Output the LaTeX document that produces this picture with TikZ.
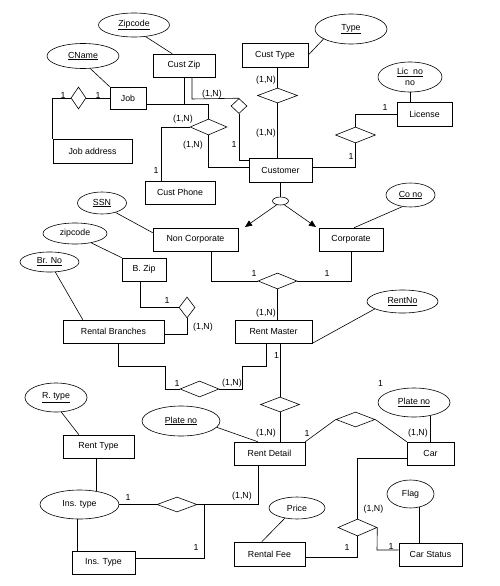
\documentclass[tikz,border=0pt]{standalone}
\usepackage{fontspec}
\setmainfont{Liberation Sans}
\usepackage{tikz}
\usetikzlibrary{shapes,arrows.meta,calc}

\begin{document}
\begin{tikzpicture}[x=1pt,y=-1pt,line width=0.6pt,
  every node/.style={font=\fontsize{8.8}{10.5}\selectfont},
  ent/.style={draw,rectangle,inner sep=0pt,minimum height=23pt},
  attr/.style={draw,ellipse,inner sep=0pt,align=center},
  rel/.style={draw,diamond,inner sep=0pt,minimum width=39pt,minimum height=16pt},
  card/.style={inner sep=0pt}]
\useasboundingbox (0,0) rectangle (500,586);

\node[ent,minimum width=62pt] (CZip) at (184,65.5) {Cust Zip};
\node[ent,minimum width=66pt,minimum height=24pt] (CType) at (275,55) {Cust Type};
\node[ent,minimum width=36pt,minimum height=22pt] (Job) at (128,98) {Job};
\node[ent,minimum width=79pt,minimum height=24pt] (JAddr) at (92.5,151) {Job address};
\node[ent,minimum width=70pt] (CPhone) at (180,192.5) {Cust Phone};
\node[ent,minimum width=55pt,minimum height=24pt] (Lic) at (424.5,114) {License};
\node[ent,minimum width=63pt,minimum height=24pt] (Cust) at (280.5,170) {Customer};
\node[ent,minimum width=85pt] (NonC) at (195.5,239.5) {Non Corporate};
\node[ent,minimum width=64pt] (Corp) at (351,239.5) {Corporate};
\node[ent,minimum width=44pt] (BZip) at (144,269.5) {B. Zip};
\node[ent,minimum width=101pt] (RBranch) at (113.5,331.5) {Rental Branches};
\node[ent,minimum width=77pt] (RMas) at (273.5,331.5) {Rent Master};
\node[ent,minimum width=71pt] (RType) at (98.5,446.5) {Rent Type};
\node[ent,minimum width=63pt] (InsT) at (103.5,562.5) {Ins. Type};
\node[ent,minimum width=71pt] (RDet) at (269.5,453.5) {Rent Detail};
\node[ent,minimum width=47pt] (Car) at (430.5,453.5) {Car};
\node[ent,minimum width=71pt,minimum height=24pt] (RFee) at (269.5,554) {Rental Fee};
\node[ent,minimum width=63pt] (CStat) at (430.5,554.5) {Car Status};

\node[attr,minimum width=71pt,minimum height=24pt] (Zip) at (134,25) {\underline{Zipcode}};
\node[attr,minimum width=72pt,minimum height=25pt] (CName) at (83,56) {\underline{CName}};
\node[attr,minimum width=72pt,minimum height=30pt] (TypeA) at (351,29) {\underline{Type}};
\node[attr,minimum width=64pt,minimum height=30pt] (LicNo) at (410,77) {\underline{Lic\ \ no}\\[1pt]no};
\node[attr,minimum width=49pt,minimum height=22pt] (SSN) at (102,203) {\underline{SSN}};
\node[attr,minimum width=49pt,minimum height=24pt] (CoNo) at (410.5,195) {\underline{Co no}};
\node[attr,minimum width=64pt,minimum height=21pt] (BZipA) at (75,233.5) {zipcode};
\node[attr,minimum width=59pt,minimum height=20pt] (BrNo) at (49.5,262) {\underline{Br. No}};
\node[attr,minimum width=71pt,minimum height=23pt] (RentNo) at (402.5,301.5) {\underline{RentNo}};
\node[attr,minimum width=62pt,minimum height=29pt] (RTypeA) at (56,397.5) {\underline{R. type}};
\node[attr,minimum width=78pt,minimum height=30pt] (PlateL) at (181,421) {\underline{Plate no}};
\node[attr,minimum width=72pt,minimum height=29pt] (PlateR) at (414,402.5) {\underline{Plate no}};
\node[attr,minimum width=79pt,minimum height=29pt] (InsE) at (79.5,504.5) {Ins. type};
\node[attr,minimum width=56pt,minimum height=22pt] (Price) at (297,508) {Price};
\node[attr,minimum width=47pt,minimum height=28pt] (Flag) at (410.5,494) {Flag};
\node[attr,minimum width=16pt,minimum height=8pt] (Isa) at (280.5,201) {};

\node[rel,minimum width=15pt,minimum height=22pt] (RJob) at (78.5,98) {};
\node[rel,minimum width=37pt] (RZip) at (208.5,127) {};
\node[rel,minimum width=16pt,minimum height=15pt] (RCz) at (239,106) {};
\node[rel,minimum width=40pt,minimum height=15pt] (RCt) at (277.5,95.5) {};
\node[rel,minimum width=40pt] (RLic) at (355.5,135) {};
\node[rel] (RCorp) at (277.5,281) {};
\node[rel,minimum width=16pt,minimum height=21pt] (RBz) at (187,307.5) {};
\node[rel] (RBm) at (199.5,389) {};
\node[rel,minimum height=15pt] (RMd) at (280,404.5) {};
\node[rel,minimum height=15pt] (RDc) at (355.5,419.5) {};
\node[rel,minimum width=40pt,minimum height=15pt] (RIns) at (177,504.5) {};
\node[rel,minimum height=17pt] (RFs) at (357.5,527.5) {};

\coordinate (j1) at (208.5,104);
\coordinate (j2) at (192,99);
\coordinate (c1) at (239,160);
\coordinate (c2) at (208.5,167);
\coordinate (c3) at (161,127);
\coordinate (a1) at (245,227);
\coordinate (a2) at (316,227);
\coordinate (n1) at (211,281);
\coordinate (b1) at (140,307.5);
\coordinate (b2) at (187,334);
\coordinate (r1) at (118,366);
\coordinate (r2) at (165,366);
\coordinate (r3) at (242,366);
\coordinate (r4) at (266,366);
\coordinate (d1) at (258,504.5);
\coordinate (d2) at (204,504.5);
\coordinate (d3) at (204,558);
\coordinate (k1) at (357.5,458);
\coordinate (k2) at (357.5,557);
\coordinate (k3) at (377,550);

\path (Zip.315) edge (CZip.135)
      (CName.300) edge (Job.north west)
      (TypeA.200) edge (CType.east)
      (SSN.325) edge (NonC.171)
      (CoNo.235) edge (Corp.75)
      (BZipA.330) edge (BZip.north west)
      (BrNo.300) edge (RBranch.159)
      (RentNo.195) edge (RMas.south east)
      (PlateL.350) edge (RDet.135)
      (RTypeA.290) edge (RType.149)
      (Price.220) edge (RFee.122);

\draw (Job.west) -- (RJob.east);
\draw (RJob.west) -| (JAddr.north west);
\draw (Job.east |- j1) -- (j1) -- (RZip.north);
\draw (CZip.south) -- (CZip.south |- j1);
\draw (CZip.south -| j2) -- (j2) -- (RCz.north);
\draw (RCz.south) -- (c1) -- (Cust.west |- c1);
\draw (RZip.south) -- (c2) -- (Cust.west |- c2);
\draw (RZip.west) -- (c3) -- (c3 |- CPhone.north);
\draw (RCt.north |- CType.south) -- (RCt.north);
\draw (RCt.south) -- (RCt.south |- Cust.north);
\draw (LicNo.south) -- (LicNo.south |- Lic.north);
\draw (Lic.west) -| (RLic.north);
\draw (RLic.south) |- (Cust.east |- c2);

\draw (Cust.south) -- (Isa.north);
\draw[-{Triangle[length=7pt,width=6pt]}] (Isa.225) -- (a1);
\draw[-{Triangle[length=7pt,width=6pt]}] (Isa.315) -- (a2);
\draw (n1 |- NonC.south) -- (n1) -- (RCorp.west);
\draw (Corp.south) |- (RCorp.east);
\draw (RCorp.south) -- (RCorp.south |- RMas.north);

\draw (b1 |- BZip.south) -- (b1) -- (RBz.west);
\draw (RBz.south) -- (b2) -- (RBranch.east |- b2);
\draw (r1 |- RBranch.south) -- (r1) -- (r2) |- (RBm.west);
\draw (RBm.east) -| (r3) -- (r4) -- (r4 |- RMas.south);
\draw (RMd.north |- RMas.south) -- (RMd.north);
\draw (RMd.south) -- (RMd.south |- RDet.north);

\draw (RDet.north east) -- (RDc.west);
\draw (RDc.east) -- (Car.north west);
\draw (PlateR.321) -- (PlateR.321 |- Car.north);
\draw (d1 |- RDet.south) -- (d1) -- (RIns.east);
\draw (InsE.east) -- (RIns.west);
\draw (d2) -- (d3) -- (InsT.east |- d3);
\draw (InsE.39 |- RType.south) -- (InsE.39);
\draw (InsE.262) -- (InsE.262 |- InsT.north);
\draw (Car.west |- k1) -- (k1) -- (RFs.north);
\draw (RFs.south) -- (k2) -- (RFee.east |- k2);
\draw (RFs.east) -- (k3) -- (CStat.west |- k3);
\draw (Flag.303) -- (Flag.303 |- CStat.north);

\node[card] (L1) at (63,95) {1};
\node[card] (L2) at (98,95) {1};
\node[card] (L3) at (212,94) {(1,N)};
\node[card] (L4) at (183,119) {(1,N)};
\node[card] (L5) at (193,145) {(1,N)};
\node[card] (L6) at (156,170) {1};
\node[card] (L7) at (234,144) {1};
\node[card] (L8) at (266,80) {(1,N)};
\node[card] (L9) at (266,133) {(1,N)};
\node[card] (L10) at (385,107) {1};
\node[card] (L11) at (351,156) {1};
\node[card] (L12) at (254,273) {1};
\node[card] (L13) at (327,273) {1};
\node[card] (L14) at (266,313) {(1,N)};
\node[card] (L15) at (167,300) {1};
\node[card] (L16) at (203,327) {(1,N)};
\node[card] (L17) at (177,383) {1};
\node[card] (L18) at (232,383) {(1,N)};
\node[card] (L19) at (276.5,355) {1};
\node[card] (L20) at (380.5,383) {1};
\node[card] (L21) at (266,433) {(1,N)};
\node[card] (L22) at (307,433) {1};
\node[card] (L23) at (418,433) {(1,N)};
\node[card] (L24) at (242,496) {(1,N)};
\node[card] (L25) at (128,497) {1};
\node[card] (L26) at (196,547) {1};
\node[card] (L27) at (373.5,509) {(1,N)};
\node[card] (L28) at (347,547) {1};
\node[card] (L29) at (391,546) {1};
\end{tikzpicture}
\end{document}
